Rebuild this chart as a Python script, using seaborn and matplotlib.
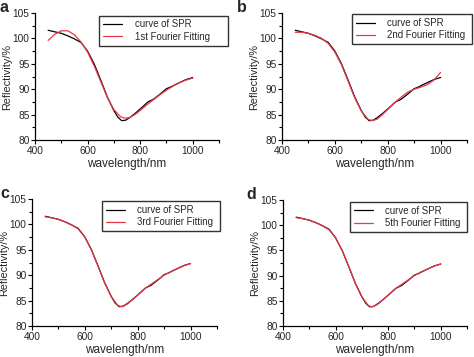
import numpy as np
import pandas as pd
import seaborn as sns
import matplotlib
matplotlib.use('Agg')
import matplotlib.pyplot as plt
from matplotlib.ticker import MultipleLocator

# measured SPR reflectivity curve
wl = [450, 475, 500, 525, 550, 575, 600, 625, 650, 675, 700, 715, 730, 745, 760,
      780, 800, 815, 830, 850, 875, 900, 915, 930, 950, 975, 1000]
spr = [101.6, 101.3, 101.0, 100.5, 99.9, 99.2, 97.5, 95.0, 91.8, 88.5, 85.8, 84.5,
       83.8, 83.9, 84.4, 85.2, 86.1, 86.8, 87.5, 88.0, 89.0, 90.1, 90.4, 90.8,
       91.3, 91.9, 92.3]

# fitted curves
fit_wl = [450, 475, 500, 525, 550, 575, 600, 625, 650, 675, 700, 725, 740, 760,
          780, 800, 825, 850, 875, 900, 925, 950, 975, 1000]
fit1 = [99.6, 100.8, 101.5, 101.5, 100.7, 99.3, 97.3, 94.6, 91.5, 88.4, 86.0, 84.6,
        84.3, 84.4, 85.0, 85.8, 86.9, 87.9, 88.9, 89.8, 90.6, 91.3, 91.8, 92.2]
fit2 = [101.2, 101.2, 101.0, 100.6, 100.0, 99.0, 97.3, 94.8, 91.6, 88.3, 85.7, 84.1,
        83.8, 84.1, 85.0, 86.0, 87.3, 88.4, 89.4, 90.0, 90.4, 90.9, 91.8, 93.3]
fit3 = [101.5, 101.3, 101.0, 100.5, 99.9, 99.1, 97.5, 95.0, 91.8, 88.5, 85.8, 84.0,
        83.8, 84.3, 85.2, 86.1, 87.3, 88.2, 89.1, 90.0, 90.7, 91.3, 91.9, 92.3]
fit5 = fit3

panels = ['a', 'b', 'c', 'd']
fit_labels = ['1st Fourier Fitting', '2nd Fourier Fitting', '3rd Fourier Fitting', '5th Fourier Fitting']
fits = [fit1, fit2, fit3, fit5]

sns.set_theme(style='ticks')
plt.rcParams['font.family'] = ['Liberation Sans', 'DejaVu Sans']

W, H = 474, 357
fig = plt.figure(figsize=(W / 100, H / 100), dpi=100)

# axes boxes in pixels: left, right, top, bottom
boxes = [(35, 219, 13, 140), (282, 467, 13, 140), (32, 217, 199, 326), (283, 467, 200, 326)]
leg_boxes = [(0.35, 0.76, 0.70, 0.22), (0.378, 0.76, 0.65, 0.23),
             (0.378, 0.756, 0.64, 0.228), (0.364, 0.756, 0.636, 0.228)]
# panel letter baselines in pixels
label_pos = [(0, 12), (237, 12), (0, 198), (246, 199)]

spr_df = pd.DataFrame({'wavelength': wl, 'value': spr})
for i in range(4):
    l, r, t, b = boxes[i]
    ax = fig.add_axes([l / W, (H - b) / H, (r - l) / W, (b - t) / H])
    fit_df = pd.DataFrame({'wavelength': fit_wl, 'value': fits[i]})
    sns.lineplot(data=spr_df, x='wavelength', y='value', ax=ax, color='black', lw=0.9, label='curve of SPR')
    sns.lineplot(data=fit_df, x='wavelength', y='value', ax=ax, color='#ea3848', lw=0.9, label=fit_labels[i])
    ax.set_xlim(400, 1100)
    ax.set_ylim(80, 105)
    ax.xaxis.set_major_locator(MultipleLocator(200))
    ax.xaxis.set_minor_locator(MultipleLocator(100))
    ax.yaxis.set_major_locator(MultipleLocator(5))
    ax.yaxis.set_minor_locator(MultipleLocator(2.5))
    ax.set_xticks([400, 600, 800, 1000])
    ax.tick_params(which='major', length=3, width=0.8, labelsize=7.3, pad=1, color='black')
    ax.tick_params(which='minor', length=2, width=0.8, color='black')
    ax.set_xlabel('wavelength/nm', fontsize=8.5, labelpad=2)
    ax.set_ylabel('Reflectivity/%', fontsize=7.8, labelpad=0)
    sns.despine(ax=ax)
    for s in ['left', 'bottom']:
        ax.spines[s].set_linewidth(0.9)
        ax.spines[s].set_color('black')
    ax.legend(loc='upper left', bbox_to_anchor=leg_boxes[i], mode='expand', fontsize=6.9,
              frameon=True, fancybox=False, edgecolor='#333333', framealpha=1,
              handlelength=2.0, handletextpad=1.3, borderpad=0.4, labelspacing=0.25,
              borderaxespad=0)
    x0, y0 = label_pos[i]
    fig.text(x0 / W, (H - y0) / H, panels[i], fontsize=11.5, fontweight='bold',
             va='baseline', ha='left')

fig.savefig('out.png', dpi=100)
